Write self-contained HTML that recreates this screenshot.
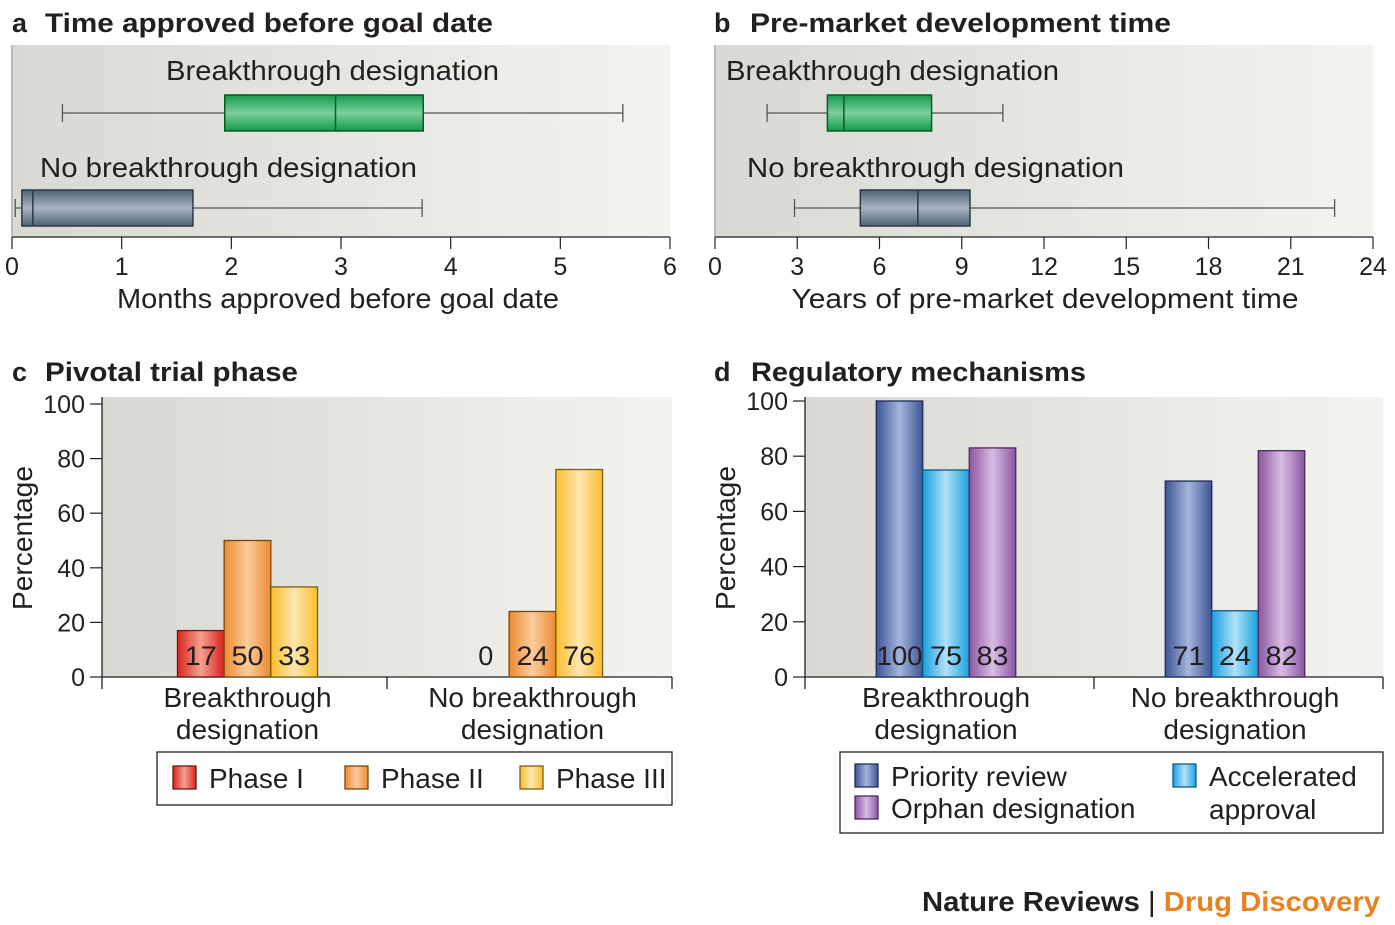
<!DOCTYPE html>
<html><head><meta charset="utf-8"><style>
html,body{margin:0;padding:0;background:#fff}
svg{display:block;font-family:"Liberation Sans",sans-serif}
</style></head><body>
<svg id="s" width="1395" height="925" viewBox="0 0 1395 925" xmlns="http://www.w3.org/2000/svg">
<defs>
<linearGradient id="bg" x1="0" x2="1" y1="0" y2="0"><stop offset="0" stop-color="#d9d9d3"/><stop offset="1" stop-color="#f3f3f0"/></linearGradient>
<linearGradient id="gG" x1="0" y1="0" x2="0" y2="1"><stop offset="0" stop-color="#139a4c"/><stop offset=".5" stop-color="#7ccf9b"/><stop offset="1" stop-color="#139a4c"/></linearGradient>
<linearGradient id="gS" x1="0" y1="0" x2="0" y2="1"><stop offset="0" stop-color="#4f6272"/><stop offset=".5" stop-color="#a7b5c1"/><stop offset="1" stop-color="#4f6272"/></linearGradient>
<linearGradient id="gR" x1="0" x2="1"><stop offset="0" stop-color="#d8231f"/><stop offset=".5" stop-color="#f7a08f"/><stop offset="1" stop-color="#d8231f"/></linearGradient>
<linearGradient id="gO" x1="0" x2="1"><stop offset="0" stop-color="#ec8a2e"/><stop offset=".5" stop-color="#fbcc9e"/><stop offset="1" stop-color="#ec8a2e"/></linearGradient>
<linearGradient id="gY" x1="0" x2="1"><stop offset="0" stop-color="#fbbd2b"/><stop offset=".5" stop-color="#fee7b0"/><stop offset="1" stop-color="#fbbd2b"/></linearGradient>
<linearGradient id="gB" x1="0" x2="1"><stop offset="0" stop-color="#3c5597"/><stop offset=".5" stop-color="#a6b5dc"/><stop offset="1" stop-color="#3c5597"/></linearGradient>
<linearGradient id="gC" x1="0" x2="1"><stop offset="0" stop-color="#1aa0e0"/><stop offset=".5" stop-color="#b1e1f8"/><stop offset="1" stop-color="#1aa0e0"/></linearGradient>
<linearGradient id="gP" x1="0" x2="1"><stop offset="0" stop-color="#8a55a3"/><stop offset=".5" stop-color="#d8bde3"/><stop offset="1" stop-color="#8a55a3"/></linearGradient>
</defs>
<g id="root"></g>
</svg>
<script>
// Panel a data
const aCats = ["Breakthrough designation","No breakthrough designation"];
const aMin = [0.46, 0.03];
const aQ1 = [1.94, 0.09];
const aMed = [2.95, 0.19];
const aQ3 = [3.75, 1.65];
const aMax = [5.57, 3.74];
const aTicks = [0,1,2,3,4,5,6];
// Panel b data
const bMin = [1.9, 2.9];
const bQ1 = [4.1, 5.3];
const bMed = [4.7, 7.4];
const bQ3 = [7.9, 9.3];
const bMax = [10.5, 22.6];
const bTicks = [0,3,6,9,12,15,18,21,24];
// Panel c data
const cGroups = ["Breakthrough|designation","No breakthrough|designation"];
const cSeries = ["Phase I","Phase II","Phase III"];
const cPhase1 = [17, 0];
const cPhase2 = [50, 24];
const cPhase3 = [33, 76];
const cLabels1 = ["17","0"];
const cLabels2 = ["50","24"];
const cLabels3 = ["33","76"];
// Panel d data
const dSeries = ["Priority review","Accelerated approval","Orphan designation"];
const dPriority = [100, 71];
const dAccel = [75, 24];
const dOrphan = [83, 82];
const yTicks = [0,20,40,60,80,100];

const NS="http://www.w3.org/2000/svg";
const root=document.getElementById('root');
function el(tag,attrs,parent,text){const e=document.createElementNS(NS,tag);for(const k in attrs)e.setAttribute(k,attrs[k]);if(text!==undefined)e.textContent=text;(parent||root).appendChild(e);return e;}
function txt(x,y,s,size,anchor,weight,fill,len){const a={x:x,y:y,'font-size':size,'text-anchor':anchor||'start',fill:fill||'#231f20'};if(weight)a['font-weight']=weight;if(len){a.textLength=len;a.lengthAdjust='spacingAndGlyphs';}return el('text',a,root,s);}

// Titles
let t;
t=txt(12,32,"a",27,'start','bold');
t=txt(45,32,"Time approved before goal date",27,'start','bold',null,448);
t=txt(714,32,"b",27,'start','bold');
t=txt(750,32,"Pre-market development time",27,'start','bold',null,421);
t=txt(12,381,"c",27,'start','bold');
t=txt(45,381,"Pivotal trial phase",27,'start','bold',null,253);
t=txt(714,381,"d",27,'start','bold');
t=txt(751,381,"Regulatory mechanisms",27,'start','bold',null,335);

function boxPanel(p){
  const bgR=el('rect',{x:p.x0-1,y:45,width:p.x1-p.x0+1,height:192,fill:'url(#bg)'});
  
  const sx=v=>p.x0+(v-p.ticks[0])/(p.ticks[p.ticks.length-1]-p.ticks[0])*(p.x1-p.x0);
  const ax=el('line',{x1:p.x0,x2:p.x1,y1:237,y2:237,stroke:'#231f20','stroke-width':1.3});
  
  el('line',{x1:p.x0,x2:p.x0,y1:45,y2:237,stroke:'#9a9a96','stroke-width':1});
  p.ticks.forEach(v=>{
    const tk=el('line',{x1:sx(v),x2:sx(v),y1:237,y2:249,stroke:'#231f20','stroke-width':1.2});
    
    const tl=txt(sx(v),275,String(v),25,'middle');
    
  });
  const at=txt(p.titleX,308,p.title,28,'middle',null,null,p.titleLen);
  
  const cy=[113,208], fills=['url(#gG)','url(#gS)'], strokes=['#0b5a2c','#2c3a46'];
  for(let i=0;i<2;i++){
    const g=el('g',{});
    
    el('line',{x1:sx(p.min[i]),x2:sx(p.max[i]),y1:cy[i],y2:cy[i],stroke:'#555','stroke-width':1.3},g);
    el('line',{x1:sx(p.min[i]),x2:sx(p.min[i]),y1:cy[i]-9,y2:cy[i]+9,stroke:'#555','stroke-width':1.3},g);
    el('line',{x1:sx(p.max[i]),x2:sx(p.max[i]),y1:cy[i]-9,y2:cy[i]+9,stroke:'#555','stroke-width':1.3},g);
    el('rect',{x:sx(p.q1[i]),y:cy[i]-18,width:sx(p.q3[i])-sx(p.q1[i]),height:36,fill:fills[i],stroke:strokes[i],'stroke-width':1.5},g);
    el('line',{x1:sx(p.med[i]),x2:sx(p.med[i]),y1:cy[i]-18,y2:cy[i]+18,stroke:strokes[i],'stroke-width':1.5},g);
    const l=txt(p.labX[i],[80,177][i],aCats[i],28,p.labAnchor[i],null,null,p.labLen[i]);
    
  }
}
boxPanel({id:'panel-a',x0:12,x1:670,ticks:aTicks,min:aMin,q1:aQ1,med:aMed,q3:aQ3,max:aMax,title:"Months approved before goal date",titleX:338,titleLen:442,labX:[166,40],labAnchor:['start','start'],labLen:[333,377]});
boxPanel({id:'panel-b',x0:715,x1:1373,ticks:bTicks,min:bMin,q1:bQ1,med:bMed,q3:bQ3,max:bMax,title:"Years of pre-market development time",titleX:1045,titleLen:507,labX:[726,747],labAnchor:['start','start'],labLen:[333,377]});

function barPanel(p){
  const y0=677, y100=p.y100, sy=v=>y0-(v/100)*(y0-y100);
  const bgR=el('rect',{x:p.x0,y:397,width:p.x1-p.x0,height:y0-397,fill:'url(#bg)'});
  
  const ya=el('line',{x1:p.x0,x2:p.x0,y1:397,y2:y0,stroke:'#231f20','stroke-width':1.3});
  
  yTicks.forEach(v=>{
    const tk=el('line',{x1:p.x0-12,x2:p.x0,y1:sy(v),y2:sy(v),stroke:'#231f20','stroke-width':1.2});
    
    const tl=txt(p.x0-17,sy(v)+9,String(v),25,'end');
    
  });
  const yt=el('text',{x:0,y:0,'font-size':28,'text-anchor':'middle',fill:'#231f20',transform:'translate('+p.ytX+',538) rotate(-90)',textLength:144,lengthAdjust:'spacingAndGlyphs'},root,'Percentage');
  
  const xa=el('line',{x1:p.x0,x2:p.x1,y1:y0,y2:y0,stroke:'#231f20','stroke-width':1.3});
  
  const mid=(p.x0+p.x1)/2;
  [p.x0,mid,p.x1].forEach(x=>{const s=el('line',{x1:x,x2:x,y1:y0,y2:689,stroke:'#231f20','stroke-width':1.3});});
  const gw=(p.x1-p.x0)/2;
  for(let g=0;g<2;g++){
    const cx=p.x0+gw*(g+0.5);
    const parts=cGroups[g].split('|');
    parts.forEach((s,k)=>{const l=txt(cx+p.offset,707+k*32,s,28,'middle');});
    for(let s=0;s<3;s++){
      const v=p.series[s][g];
      const x=cx+p.offset+(s-1.5)*p.bw;
      if(v>0){
        const r=el('rect',{x:x,y:sy(v),width:p.bw,height:y0-sy(v),fill:p.fills[s],stroke:p.strokes[s],'stroke-width':1.3});
        
      }
      const vl=txt(x+p.bw/2,665,p.labels[s][g],27,'middle',null,null,p.labels[s][g].length>2?46:(p.labels[s][g].length==2?32:null));
      
    }
  }
}
barPanel({id:'panel-c',x0:102,x1:672,y100:404,bw:46.7,offset:3,series:[cPhase1,cPhase2,cPhase3],labels:[cLabels1,cLabels2,cLabels3],
  fills:['url(#gR)','url(#gO)','url(#gY)'],strokes:['#6b1a12','#7a4510','#7d5e0f'],ytX:32});
barPanel({id:'panel-d',x0:805,x1:1383,y100:401,bw:46.5,offset:-3.5,series:[dPriority,dAccel,dOrphan],
  labels:[dPriority.map(String),dAccel.map(String),dOrphan.map(String)],
  fills:['url(#gB)','url(#gC)','url(#gP)'],strokes:['#1e2d57','#0b5a85','#4e2a60'],ytX:735});

// Legends
function legend(id,x,y,w,h,items){
  const r=el('rect',{x:x,y:y,width:w,height:h,fill:'#fff',stroke:'#231f20','stroke-width':1.3});
  
  items.forEach(it=>{
    const g=el('g',{});
    
    el('rect',{x:it.x,y:it.y-12,width:23,height:23,fill:it.fill,stroke:it.stroke,'stroke-width':1.3},g);
    it.text.forEach((s,k)=>{el('text',{x:it.x+36,y:it.y+10+k*33,'font-size':28,fill:'#231f20'},g,s);});
  });
}
legend('panel-c-legend',157,752,515,53,[
  {x:173,y:778,fill:'url(#gR)',stroke:'#6b1a12',text:['Phase I']},
  {x:345,y:778,fill:'url(#gO)',stroke:'#7a4510',text:['Phase II']},
  {x:520,y:778,fill:'url(#gY)',stroke:'#7d5e0f',text:['Phase III']}]);
legend('panel-d-legend',840,752,543,81,[
  {x:855,y:776,fill:'url(#gB)',stroke:'#1e2d57',text:['Priority review']},
  {x:855,y:808,fill:'url(#gP)',stroke:'#4e2a60',text:['Orphan designation']},
  {x:1173,y:776,fill:'url(#gC)',stroke:'#0b5a85',text:['Accelerated','approval']}]);

// Footer
const f=el('text',{x:1380,y:911,'font-size':28,'font-weight':'bold','text-anchor':'end',textLength:458,lengthAdjust:'spacingAndGlyphs'},root);

el('tspan',{fill:'#231f20'},f,'Nature Reviews ');
el('tspan',{fill:'#231f20','font-weight':'normal'},f,'| ');
el('tspan',{fill:'#e8821e'},f,'Drug Discovery');
</script>
</body></html>
